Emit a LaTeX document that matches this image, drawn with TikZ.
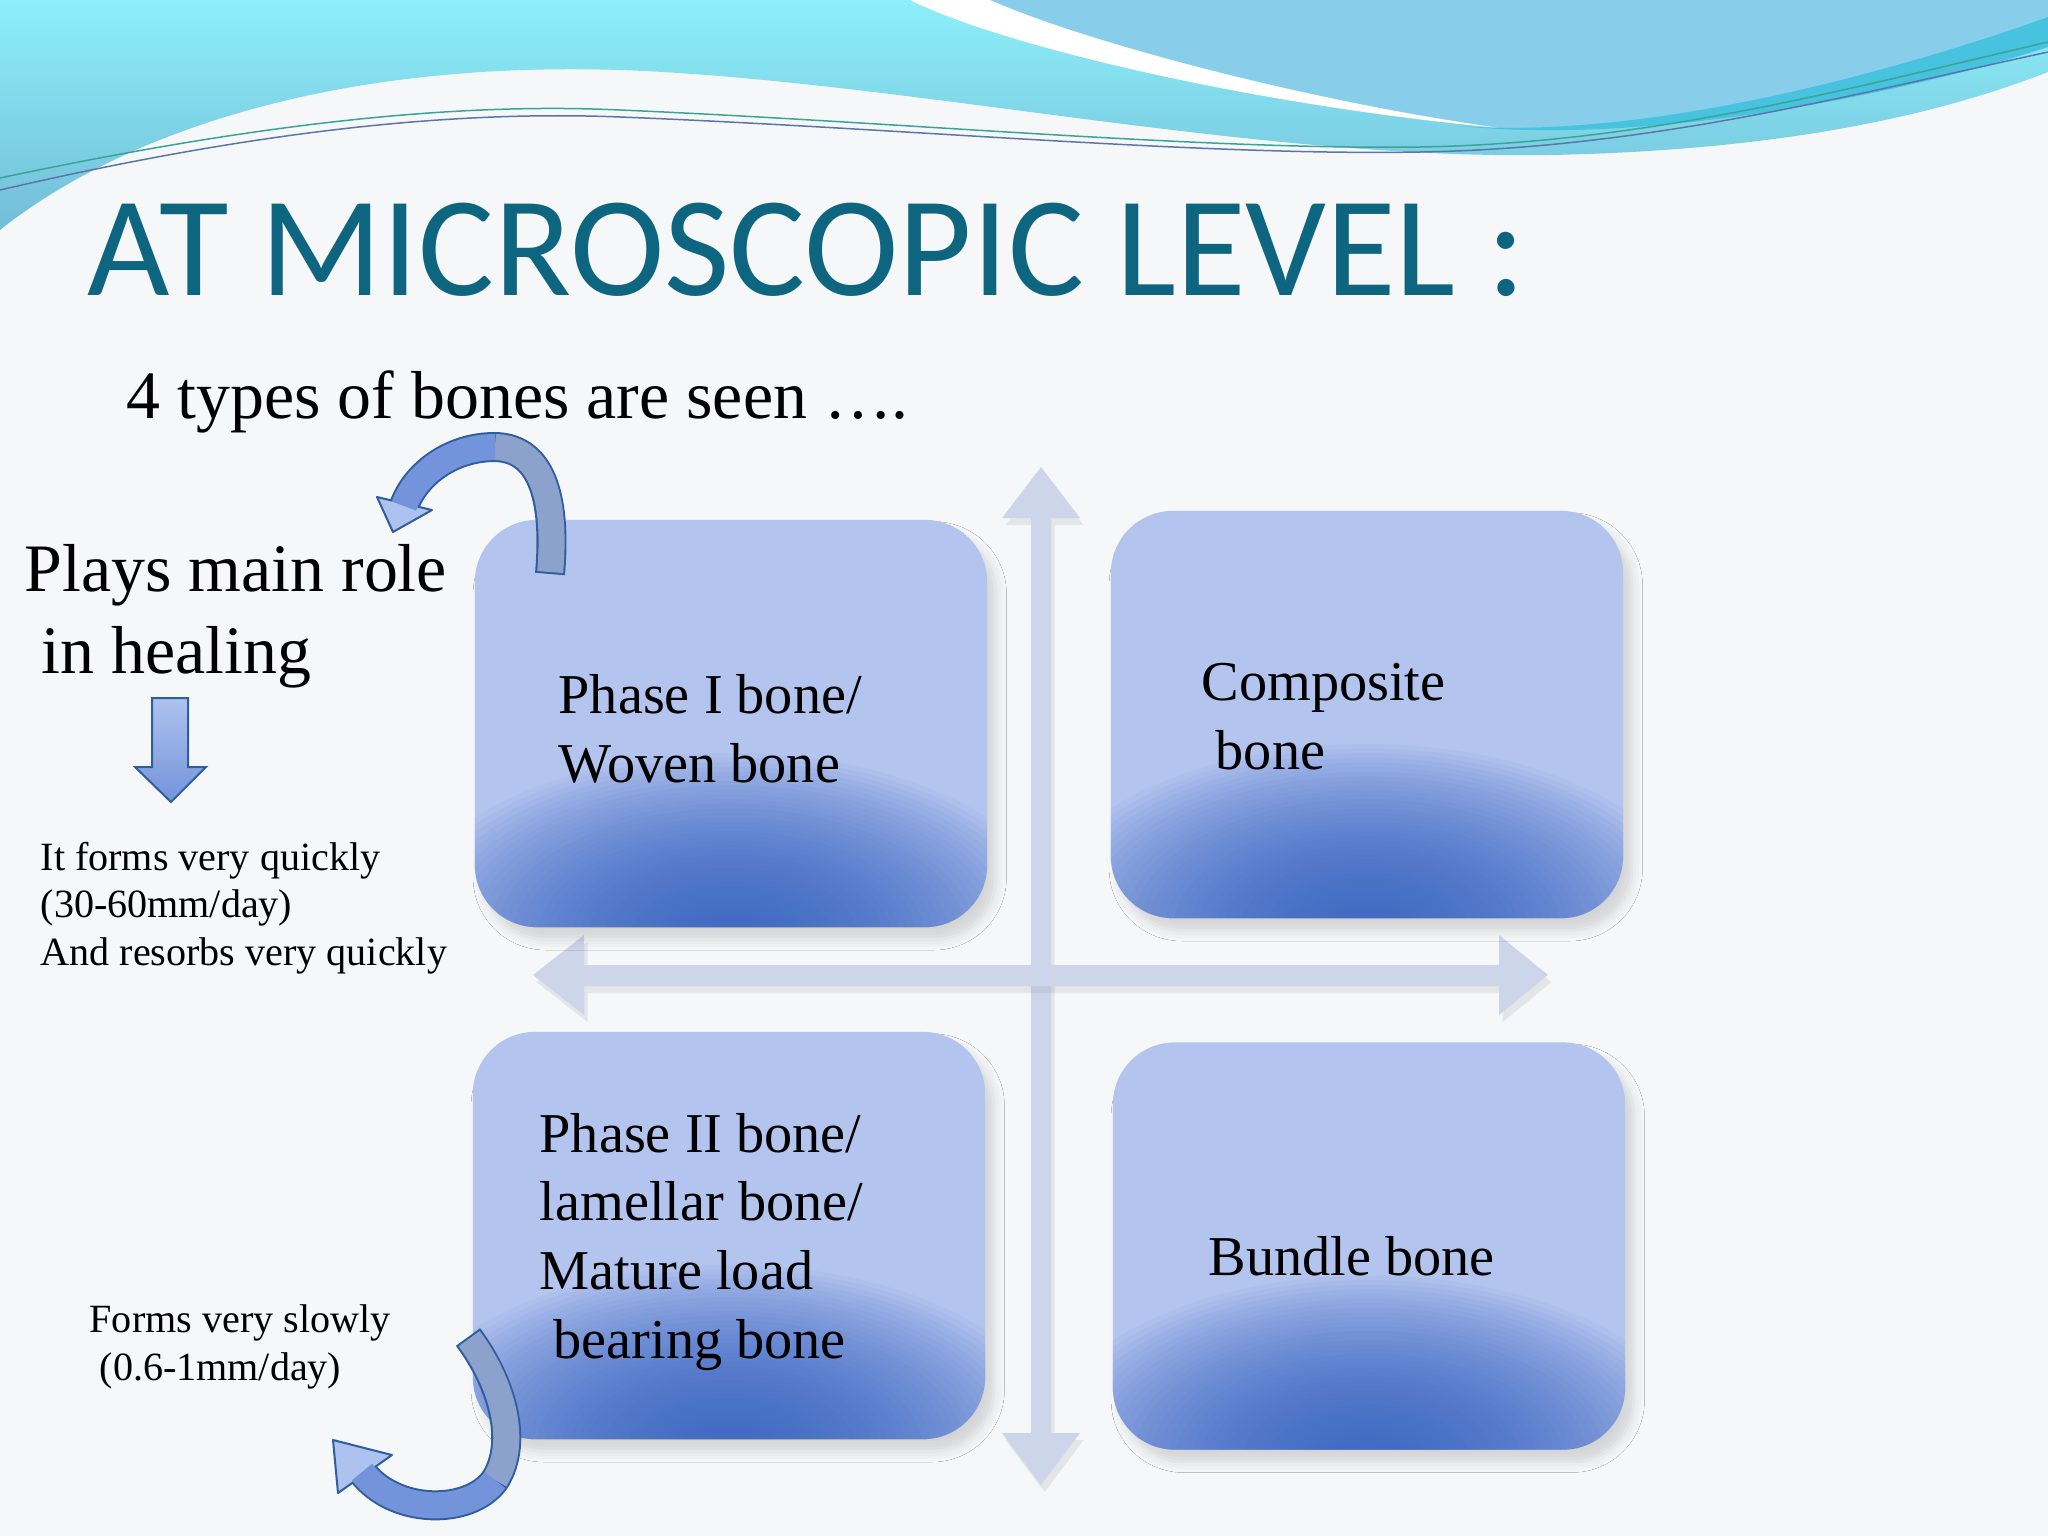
\documentclass[tikz,border=0pt]{standalone}
\usepackage{fontspec}
\setmainfont{Liberation Serif}
\newfontfamily\titlefont{Carlito}
\usetikzlibrary{shadows,shadows.blur}

\definecolor{slidebg}{HTML}{F6F7F9}
\definecolor{cyantop}{HTML}{8DEFF9}
\definecolor{cyanlow}{HTML}{72BDD8}
\definecolor{skyblue}{HTML}{88CEEB}
\definecolor{deepcyan}{HTML}{47C2DF}
\definecolor{wireteal}{HTML}{3AA595}
\definecolor{wireslate}{HTML}{5B76A8}
\definecolor{titleteal}{HTML}{0E6580}
\definecolor{boxlight}{HTML}{B3C4EE}
\definecolor{glowdark}{HTML}{3463C4}
\definecolor{crossgray}{HTML}{CDD5EA}
\definecolor{arrowedge}{HTML}{2F5E9E}
\definecolor{arrowpale}{HTML}{AEC2EF}
\definecolor{arrowslate}{HTML}{8DA1CD}
\definecolor{arrowmid}{HTML}{7394DA}

\tikzset{
  bonebox/.style={rectangle, rounded corners=0.62cm, minimum width=5.12cm,
    minimum height=4.07cm, inner sep=0pt, fill=boxlight,
    blur shadow={shadow xshift=2.5pt, shadow yshift=-3.5pt, shadow blur radius=3pt, shadow opacity=14},
    path picture={\foreach \k in {1,...,40}
      \fill[glowdark, opacity=0.047] ([yshift=-0.1cm]path picture bounding box.south)
        ellipse [x radius=\k*0.084cm, y radius=\k*0.046cm];}},
  boxtext/.style={anchor=base west, align=left, inner sep=0pt,
    font=\fontsize{16pt}{19.5pt}\selectfont},
  sidetext/.style={anchor=base west, align=left, inner sep=0pt,
    font=\fontsize{19.3pt}{23.2pt}\selectfont},
  notetext/.style={anchor=base west, align=left, inner sep=0pt,
    font=\fontsize{11.4pt}{13.4pt}\selectfont},
  titletext/.style={anchor=base west, inner sep=0pt, text=titleteal,
    font=\titlefont\fontsize{40.5pt}{48pt}\selectfont},
  bandedge/.style={arrowedge, line width=0.30cm},
  bandfill/.style={line width=0.26cm},
  headtip/.style={fill=arrowpale, draw=arrowedge, line width=0.02cm, line join=round}
}

\begin{document}
\begin{tikzpicture}[x=0.01cm,y=-0.01cm]
  \useasboundingbox (0,0) rectangle (2048,1536);
  \fill[slidebg] (0,0) rectangle (2048,1536);

  % backdrop waves
  \shade[top color=cyantop, bottom color=cyanlow] (0,0) -- (2048,0) -- (2048,72)
    .. controls (1950,110) and (1800,150) .. (1550,155)
    .. controls (1250,160) and (900,80) .. (620,70)
    .. controls (300,60) and (100,150) .. (0,230) -- cycle;
  \fill[skyblue] (990,0) .. controls (1080,40) and (1300,100) .. (1500,128)
    .. controls (1650,140) and (1900,70) .. (2048,17) -- (2048,0) -- cycle;
  \fill[white] (910,0) .. controls (1000,45) and (1250,105) .. (1500,128)
    .. controls (1300,100) and (1080,40) .. (990,0) -- cycle;
  \fill[deepcyan] (1460,126) .. controls (1650,140) and (1900,70) .. (2048,17) -- (2048,47)
    .. controls (1900,95) and (1650,145) .. (1460,126) -- cycle;
  \draw[wireteal, line width=0.015cm] (0,178) .. controls (250,125) and (450,102) .. (620,110)
    .. controls (900,122) and (1200,150) .. (1420,147)
    .. controls (1650,143) and (1850,88) .. (2048,42);
  \draw[wireslate, line width=0.015cm] (0,190) .. controls (250,132) and (450,110) .. (620,117)
    .. controls (900,128) and (1200,156) .. (1420,152)
    .. controls (1650,148) and (1850,95) .. (2048,52);

  \node[titletext] (title) at (87,295) {AT MICROSCOPIC LEVEL :};
  \node[sidetext] (typesline) at (126,418) {4 types of bones are seen ….};

  % the cross between the four boxes
  \fill[crossgray, drop shadow={opacity=0.15, shadow xshift=1pt, shadow yshift=-2pt}]
    (1031,518) -- (1002,518) -- (1041,467) -- (1080,518) -- (1051,518) -- (1051,1433)
    -- (1080,1433) -- (1041,1485) -- (1002,1433) -- (1031,1433) -- cycle;
  \fill[crossgray, drop shadow={opacity=0.15, shadow xshift=1pt, shadow yshift=-2pt}]
    (584,965) -- (584,935) -- (533,975) -- (584,1015) -- (584,986) -- (1499,986)
    -- (1499,1015) -- (1548,975) -- (1499,935) -- (1499,965) -- cycle;

  \foreach \name/\cx/\cy in {phaseone/731/723.5, composite/1367/714.5,
                             phasetwo/729/1235.5, bundle/1369/1246}
    \node[bonebox] (\name) at (\cx,\cy) {};

  % multi-line nodes sit on the baseline of their last line
  \node[boxtext] (phaseonetext) at (558,782) {Phase I bone/\\Woven bone};
  \node[boxtext] (compositetext) at (1201,769) {Composite\\\hspace*{0.25em}bone};
  \node[boxtext] (phasetwotext) at (539,1358)
    {Phase II bone/\\lamellar bone/\\Mature load\\\hspace*{0.25em}bearing bone};
  \node[boxtext] (bundletext) at (1208,1275) {Bundle bone};

  \node[sidetext] (healing) at (24,673) {Plays main role\\\hspace*{0.25em}in healing};
  \node[notetext] (quicknote) at (40,965)
    {It forms very quickly\\(30-60mm/day)\\And resorbs very quickly};
  \node[notetext] (slownote) at (89,1380) {Forms very slowly\\\hspace*{0.25em}(0.6-1mm/day)};

  % down arrow under the healing note
  \draw[arrowedge, line width=0.02cm, top color=arrowpale, bottom color=arrowmid]
    (152,698) -- (188,698) -- (188,767) -- (206,767) -- (171,802) -- (135,767)
    -- (152,767) -- cycle;

  % curved arrow from phase I box
  \draw[bandedge] (550,574) .. controls (556,505) and (545,448) .. (495,447)
    .. controls (450,447) and (415,475) .. (404,506);
  \path[headtip] (377,497) -- (393,532) -- (432,510) -- cycle;
  \draw[bandfill, arrowslate, shorten <=0.02cm] (550,574) .. controls (556,505) and (545,448) .. (495,447);
  \draw[bandfill, arrowmid] (495,447) .. controls (450,447) and (415,475) .. (404,506);

  % curved arrow from phase II box
  \draw[bandedge] (468,1337) .. controls (500,1380) and (520,1440) .. (495,1480)
    .. controls (470,1515) and (395,1515) .. (362,1472);
  \path[headtip] (333,1440) -- (392,1455) -- (338,1493) -- cycle;
  \draw[bandfill, arrowslate, shorten <=0.02cm] (468,1337) .. controls (500,1380) and (520,1440) .. (495,1480);
  \draw[bandfill, arrowmid] (495,1480) .. controls (470,1515) and (395,1515) .. (362,1472);
\end{tikzpicture}
\end{document}
